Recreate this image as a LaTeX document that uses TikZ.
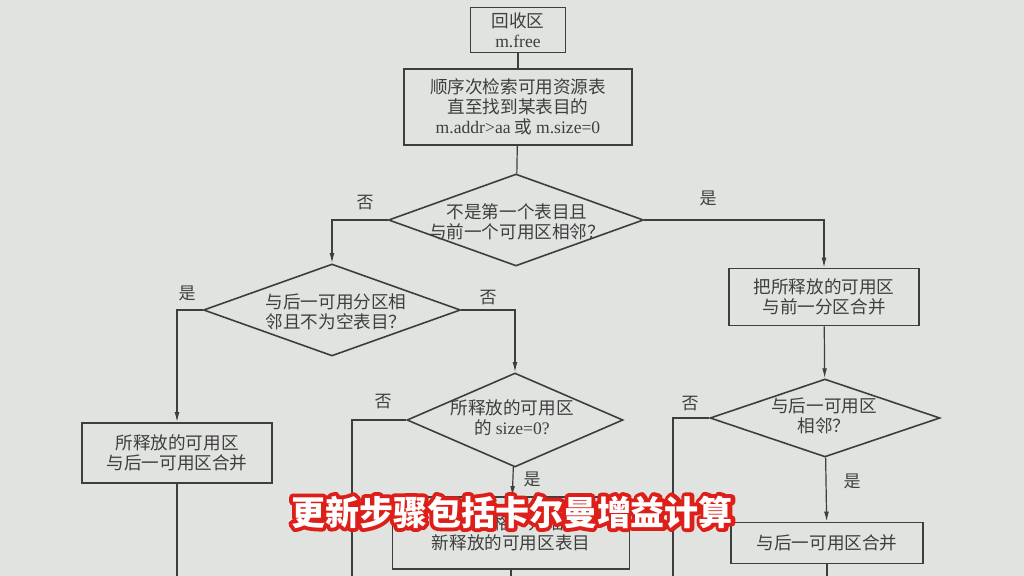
\documentclass[tikz,border=0pt]{standalone}
\usepackage{fontspec}
\setmainfont{Liberation Serif}
\newfontfamily\cjk{Noto Sans CJK SC}
\newfontfamily\lat{Liberation Serif}
\usepackage{tikz}
\usetikzlibrary{positioning,arrows.meta,shapes.geometric}
\usepackage{xcolor}

\definecolor{paper}{RGB}{224,227,224}
\definecolor{ink}{RGB}{62,62,62}
\definecolor{capred}{RGB}{222,30,24}

% outlined text (stroke mode of the pdf text)
\newcommand{\strokedtext}[1]{\special{pdf:literal direct 2 Tr 3.8 w 1 j}#1\special{pdf:literal direct 0 Tr}}

\tikzset{
  box/.style={draw=ink, line width=0.8pt, inner sep=0pt, align=center, text=ink,
    font=\cjk\fontsize{8.8pt}{10pt}\selectfont},
  decision/.style={diamond, draw=ink, line width=0.8pt, inner sep=0pt},
  dtext/.style={inner sep=0pt, text=ink, font=\cjk\fontsize{8.8pt}{10pt}\selectfont},
  lbl/.style={inner sep=0pt, text=ink, font=\cjk\fontsize{8.5pt}{10pt}\selectfont},
  flow/.style={draw=ink, line width=0.6pt},
  arrow/.style={flow, -{Latex[length=5pt,width=2.4pt]}},
  subtitle/.style={inner sep=0pt, font=\cjk\bfseries\fontsize{17pt}{20pt}\selectfont}
}

\begin{document}
\begin{tikzpicture}[x=0.5pt,y=-0.5pt]
  \fill[paper] (0,0) rectangle (1024,576);
  \useasboundingbox (0,0) rectangle (1024,576);

  % boxes
  \node[box, minimum width=47.5pt, minimum height=22.5pt] (free) at (518,30)
    {回收区\\{\lat m.free}};
  \node[box, minimum width=114pt, minimum height=38pt] (scan) at (518,107)
    {顺序次检索可用资源表\\直至找到某表目的\\{\lat m.addr>aa} 或 {\lat m.size=0}};
  \node[box, minimum width=95pt, minimum height=28.5pt] (mergeprev) at (824,297)
    {把所释放的可用区\\与前一分区合并};
  \node[box, minimum width=95pt, minimum height=30pt] (mergenext) at (177,453)
    {所释放的可用区\\与后一可用区合并};
  \node[box, minimum width=118.5pt, minimum height=36pt] (insert) at (511,533)
    {上移一格，并插入\\新释放的可用区表目};
  \node[box, minimum width=96pt, minimum height=20.5pt] (mergenext2) at (827,543)
    {与后一可用区合并};

  % decisions
  \node[decision, minimum width=127.5pt, minimum height=46pt] (adjprev) at (516,220) {};
  \node[dtext, align=center] (adjprevtxt) at (517,222) {不是第一个表目且\\与前一个可用区相邻？};
  \node[decision, minimum width=128.5pt, minimum height=46pt] (adjnext) at (332,310) {};
  \node[dtext, align=left] (adjnexttxt) at (336,312) {与后一可用分区相\\邻且不为空表目？};
  \node[decision, minimum width=108pt, minimum height=47pt] (sizezero) at (515,420) {};
  \node[dtext, align=center] (sizezerotxt) at (512,418) {所释放的可用区\\的 {\lat size=0?}};
  \node[decision, minimum width=115pt, minimum height=39pt] (adjnext2) at (825,418) {};
  \node[dtext, align=center] (adjnext2txt) at (824,416) {与后一可用区\\相邻？};

  % yes / no labels
  \node[lbl] (no1) at (365,203) {否};
  \node[lbl] (yes1) at (708,198) {是};
  \node[lbl] (yes2) at (187,293) {是};
  \node[lbl] (no2) at (488,298) {否};
  \node[lbl] (no3) at (383,402) {否};
  \node[lbl] (yes3) at (532,479) {是};
  \node[lbl] (no4) at (690,404) {否};
  \node[lbl] (yes4) at (852,481) {是};

  % loose ends at the page bottom
  \coordinate (mergenextout) at (177,576);
  \coordinate (sizezeroout) at (352,576);
  \coordinate (insertout) at (511,576);
  \coordinate (adjnext2out) at (673,576);
  \coordinate (mergenext2out) at (827,576);

  % connectors
  \draw[flow] (free) -- (scan);
  \draw[flow] (scan) -- (adjprev);
  \draw[arrow] (adjprev.west) -| (adjnext.north);
  \draw[arrow] (adjprev.east) -| (mergeprev.north);
  \draw[arrow] (adjnext.west) -| (mergenext.north);
  \draw[arrow] (adjnext.east) -| (sizezero.north);
  \draw[arrow] (mergeprev) -- (adjnext2);
  \draw[arrow] (sizezero) -- (insert);
  \draw[arrow] (adjnext2) -- (mergenext2);
  \draw[flow] (sizezero.west) -| (sizezeroout);
  \draw[flow] (adjnext2.west) -| (adjnext2out);
  \draw[flow] (mergenext) -- (mergenextout);
  \draw[flow] (insert) -- (insertout);
  \draw[flow] (mergenext2) -- (mergenext2out);

  % subtitle: red outline under white letters
  \node[subtitle, text=capred] (captionedge) at (512,512) {\strokedtext{更新步骤包括卡尔曼增益计算}};
  \node[subtitle, text=white] (caption) at (512,512) {更新步骤包括卡尔曼增益计算};
\end{tikzpicture}
\end{document}
